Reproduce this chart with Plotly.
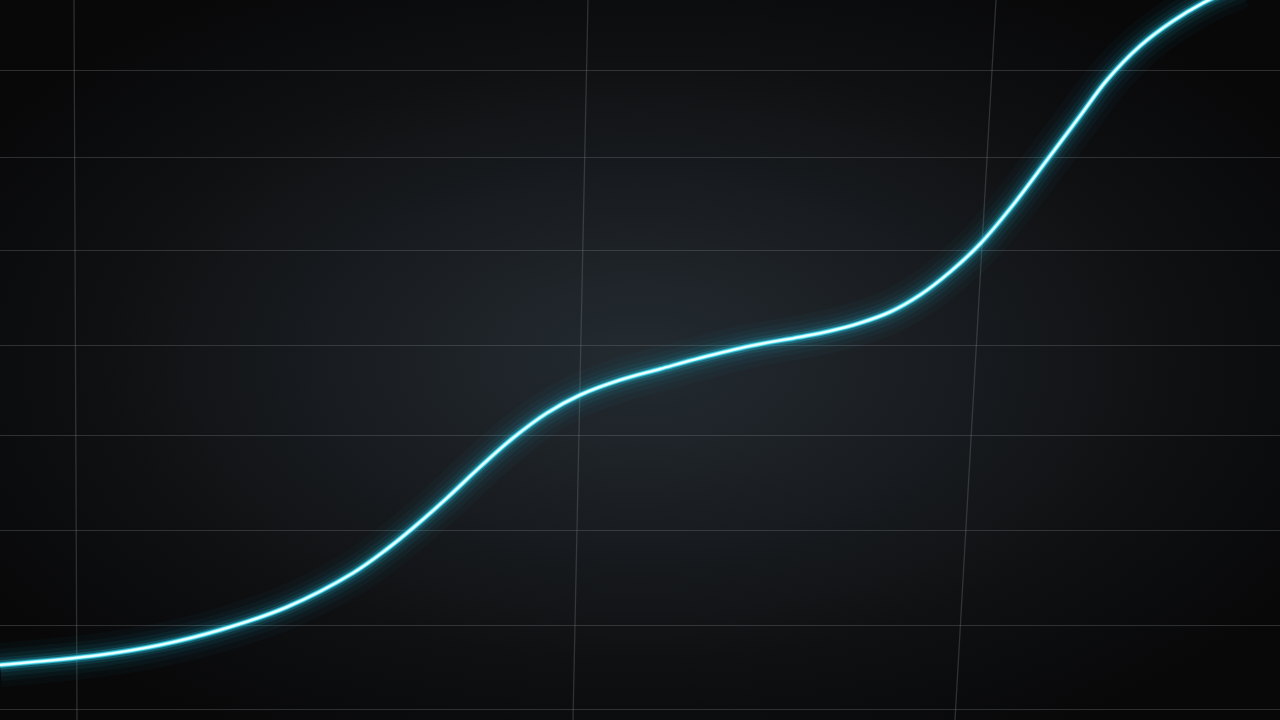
import base64
import plotly.graph_objects as go

# Curve samples (x position in px, y position in px from top)
x_vals = [0, 100, 160, 220, 287, 353, 387, 413, 447, 480, 513, 547, 580, 620, 660,
          700, 750, 800, 830, 860, 890, 920, 950, 980, 1013, 1047, 1080, 1107, 1140,
          1173, 1203, 1240]
y_px = [665, 655, 645, 630, 607, 573, 549, 528, 498, 467, 438, 413, 395, 380, 369,
        358, 346, 337, 331, 323, 312, 295, 272, 244, 205, 160, 116, 80, 46,
        21, 3, -14]
y_vals = [720 - v for v in y_px]

# Horizontal grid levels (height above bottom)
grid_y = [720 - v for v in [70, 157, 250, 345, 435, 530, 625, 709]]
# Tilted vertical grid lines: (x at top, x at bottom) in pixels
grid_x_top = [74, 588, 996]
grid_x_bot = [77, 573, 955]

W, H = 1280, 720

svg = f'''<svg xmlns="http://www.w3.org/2000/svg" width="{W}" height="{H}" viewBox="0 0 {W} {H}">
<defs>
<radialGradient id="g" cx="0.5" cy="0.5" r="0.6" gradientUnits="objectBoundingBox">
<stop offset="0" stop-color="#232b31"/>
<stop offset="0.35" stop-color="#1a1e22"/>
<stop offset="0.7" stop-color="#0f1012"/>
<stop offset="1" stop-color="#080809"/>
</radialGradient>
</defs>
<rect width="{W}" height="{H}" fill="url(#g)"/>
</svg>'''
bg_uri = "data:image/svg+xml;base64," + base64.b64encode(svg.encode()).decode()

fig = go.Figure()

glow_layers = [
    (44, "rgb(30,180,215)", 0.03),
    (32, "rgb(30,185,220)", 0.045),
    (23, "rgb(30,190,222)", 0.065),
    (15, "rgb(35,195,225)", 0.11),
    (9.5, "rgb(40,200,230)", 0.24),
    (5.5, "#2ac4da", 0.75),
    (3.6, "#7eeefc", 1.0),
    (2.0, "#f0ffff", 1.0),
]
for w, c, op in glow_layers:
    fig.add_trace(go.Scatter(
        x=x_vals, y=y_vals, mode="lines",
        line=dict(color=c, width=w, shape="spline", smoothing=1.0),
        opacity=op, hoverinfo="skip", showlegend=False,
    ))

grid_color = "rgba(120,126,132,0.32)"
shapes = []
for xt, xb in zip(grid_x_top, grid_x_bot):
    shapes.append(dict(
        type="line", xref="paper", yref="paper",
        x0=xt / W, y0=1, x1=xb / W, y1=0,
        line=dict(color=grid_color, width=1.3),
        layer="below",
    ))

fig.update_layout(
    width=W, height=H,
    margin=dict(l=0, r=0, t=0, b=0),
    paper_bgcolor="#0a0a0b",
    plot_bgcolor="rgba(0,0,0,0)",
    showlegend=False,
    shapes=shapes,
    images=[dict(source=bg_uri, xref="paper", yref="paper", x=0, y=1,
                 sizex=1, sizey=1, sizing="stretch", layer="below",
                 xanchor="left", yanchor="top")],
    xaxis=dict(range=[0, W], showgrid=False, zeroline=False, showline=False,
               showticklabels=False, ticks="", fixedrange=True),
    yaxis=dict(range=[0, H], tickvals=grid_y, showgrid=True,
               gridcolor=grid_color, gridwidth=1.3,
               zeroline=False, showline=False, showticklabels=False, ticks="",
               fixedrange=True),
)

fig.write_html("out.html", config={"displayModeBar": False},
               post_script="document.body.style.margin='0';document.body.style.overflow='hidden';")
